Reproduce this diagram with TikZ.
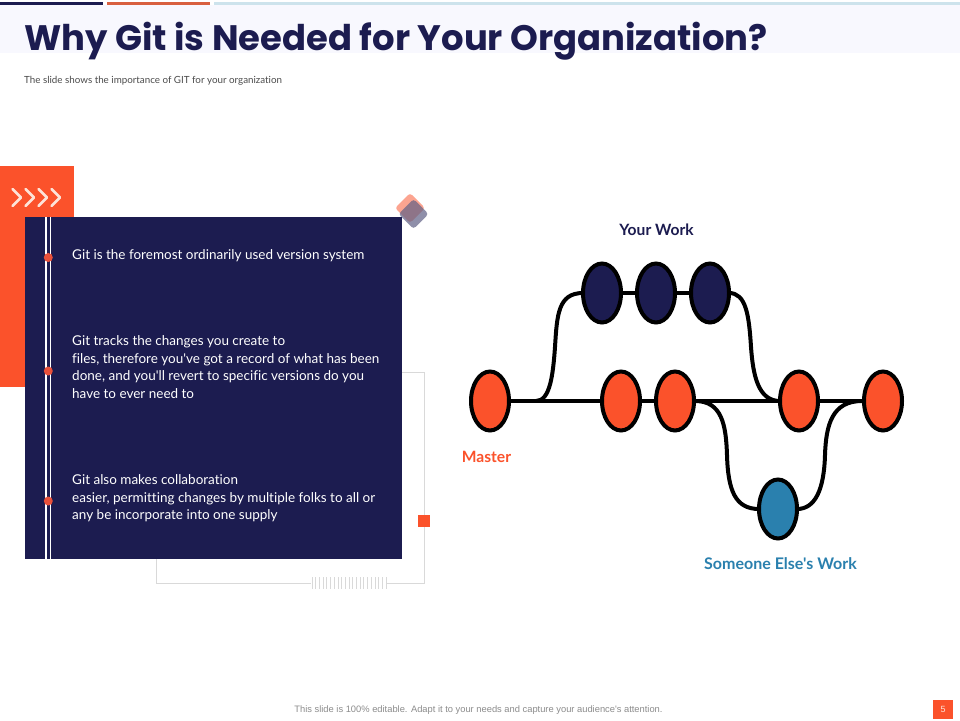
\documentclass[tikz,border=0pt]{standalone}
\usepackage{fontspec}
\setmainfont{Lato}[Ligatures={TeXOff,NoCommon}]
\newfontfamily\titlefont{Poppins}
\newfontfamily\footfont{Liberation Sans}[Ligatures=TeXOff]
\usetikzlibrary{shapes.geometric}
\definecolor{navy}{HTML}{1C1C50}
\definecolor{brand}{HTML}{FB522B}
\definecolor{teal}{HTML}{2A80AE}
\definecolor{frame}{HTML}{D9D9D9}
\definecolor{band}{HTML}{F8F8FE}
\definecolor{barred}{HTML}{D9603F}
\definecolor{barblue}{HTML}{CDE3EC}
\definecolor{dotred}{HTML}{E8503A}
\definecolor{cream}{HTML}{FDE3D8}
\tikzset{
  x=1pt,y=-1pt,
  commit/.style={ellipse,draw=black,line width=4pt,outer sep=0pt,minimum width=38pt,minimum height=59pt,inner sep=0pt},
  link/.style={draw=black,line width=4pt},
  body/.style={anchor=north west,text=white,font=\fontsize{13.5}{17.6}\selectfont,inner sep=0pt,align=left},
  lab/.style={font=\fontsize{15.6}{18}\selectfont\bfseries,inner sep=0pt},
  dot/.style={circle,fill=dotred,draw=none,minimum size=9pt,inner sep=0pt},
}
\begin{document}
\begin{tikzpicture}
\useasboundingbox (0,0) rectangle (960,720);
\fill[white] (0,0) rectangle (960,720);
% header
\fill[band] (0,5) rectangle (960,53);
\fill[navy] (0,2) rectangle (103,5);
\fill[barred] (107,2) rectangle (210,5);
\fill[barblue] (214,2) rectangle (960,5);
\node[anchor=west,inner sep=0pt,text=navy,font=\titlefont\fontsize{35.4}{40}\selectfont\bfseries] (title) at (24,41) {Why Git is Needed for Your Organization?};
\node[anchor=west,inner sep=0pt,text=black!70,font=\fontsize{9.8}{11}\selectfont] (sub) at (24,80.5) {The slide shows the importance of GIT for your organization};
% left panel
\draw[frame,line width=0.8pt] (156,545) -- (156,583) -- (424,583) -- (424,372) -- (390,372);
\fill[white] (311,577) rectangle (386,589);
\foreach \i in {0,...,20} \draw[frame,line width=0.7pt] ({312+\i*3.7},577) -- ({312+\i*3.7},589);
\fill[brand] (418,515) rectangle (430,527);
\fill[brand] (0,166) rectangle (74,387);
\foreach \i in {0,...,3} \draw[cream,line width=2.6pt,line cap=round,line join=round] ({12.5+\i*13},189) -- ({21+\i*13},197.5) -- ({12.5+\i*13},206);
% diamonds
\fill[brand!70!white,opacity=.75,rounded corners=3pt] (410,193) -- (425,208) -- (410,223) -- (395,208) -- cycle;
\fill[navy!70!white,opacity=.7,rounded corners=3pt] (413.5,199) -- (428.5,214) -- (413.5,229) -- (398.5,214) -- cycle;
\fill[navy] (25,217) rectangle (402,559);
\draw[white,line width=1.2pt] (46,217) -- (46,559);
\draw[white,line width=1.2pt] (50.6,217) -- (50.6,559);
\node[dot] (d1) at (48.3,257.5) {};
\node[dot] (d2) at (48.3,371) {};
\node[dot] (d3) at (48.3,501) {};
\node[body] (t1) at (72,249) {Git is the foremost ordinarily used version system};
\node[body] (t2) at (72,335.5) {Git tracks the changes you create to\\files, therefore you've got a record of what has been\\done, and you'll revert to specific versions do you\\have to ever need to};
\node[body] (t3) at (72,474.5) {Git also makes collaboration\\easier, permitting changes by multiple folks to all or\\any be incorporate into one supply};
% graph
\coordinate (b1) at (536,401);
\coordinate (b2) at (780,401);
\coordinate (b3) at (695,401);
\coordinate (b4) at (862,401);
\node[commit,fill=brand] (m1) at (490,401) {};
\node[commit,fill=brand] (m2) at (621,401) {};
\node[commit,fill=brand] (m3) at (675,401) {};
\node[commit,fill=brand] (m4) at (799,401) {};
\node[commit,fill=brand] (m5) at (883,401) {};
\node[commit,fill=navy] (w1) at (602,293) {};
\node[commit,fill=navy] (w2) at (656,293) {};
\node[commit,fill=navy] (w3) at (710,293) {};
\node[commit,fill=teal] (o1) at (778,509) {};
\draw[link] (m1) -- (m2);
\draw[link] (m2) -- (m3);
\draw[link] (m3) -- (m4);
\draw[link] (m4) -- (m5);
\draw[link] (w1) -- (w2);
\draw[link] (w2) -- (w3);
\draw[link] (b1) .. controls (550,401) and (553,375) .. (555,347) .. controls (557,315) and (558,293) .. (w1.west);
\draw[link] (w3.east) .. controls (746,293) and (749,315) .. (751,347) .. controls (753,375) and (758,401) .. (b2);
\draw[link] (b3) .. controls (722,401) and (726,425) .. (727,455) .. controls (728,490) and (735,509) .. (o1.west);
\draw[link] (o1.east) .. controls (815,509) and (824,490) .. (825,455) .. controls (826,425) and (832,401) .. (b4);
\node[lab,text=navy] (lw) at (656.5,229.5) {Your Work};
\node[lab,text=brand] (lm) at (486.5,456.5) {Master};
\node[lab,text=teal,font=\fontsize{16}{18}\selectfont\bfseries] (lo) at (780.5,563.5) {Someone Else's Work};
% footer
\node[inner sep=0pt,text=black!45,font=\footfont\fontsize{9.34}{10}\selectfont] (foot) at (478.5,710) {This slide is 100\% editable. Adapt it to your needs and capture your audience's attention.};
\node[fill=brand,text=cream,minimum width=20pt,minimum height=19pt,inner sep=0pt,font=\footfont\fontsize{9}{10}\selectfont] (pg) at (943,709.5) {5};
\end{tikzpicture}
\end{document}
